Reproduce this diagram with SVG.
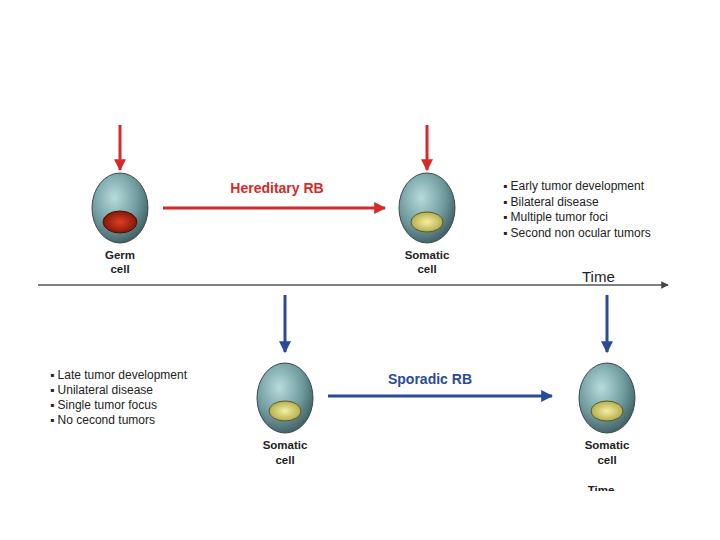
<svg xmlns="http://www.w3.org/2000/svg" width="720" height="540" viewBox="0 0 720 540">
<defs>
<radialGradient id="cg" cx="0.4" cy="0.35" r="0.7"><stop offset="0" stop-color="#b8dcdc"/><stop offset="0.6" stop-color="#6e9a9e"/><stop offset="1" stop-color="#3e5a5e"/></radialGradient>
<radialGradient id="ny" cx="0.5" cy="0.5" r="0.6"><stop offset="0" stop-color="#f4f0a0"/><stop offset="1" stop-color="#a8a040"/></radialGradient>
<radialGradient id="nr" cx="0.5" cy="0.5" r="0.6"><stop offset="0" stop-color="#e04020"/><stop offset="1" stop-color="#701008"/></radialGradient>
<marker id="ar" viewBox="0 0 10 10" refX="9" refY="5" markerWidth="4" markerHeight="4" orient="auto"><path d="M0,0L10,5L0,10z" fill="#d42a2a"/></marker>
<marker id="ab" viewBox="0 0 10 10" refX="9" refY="5" markerWidth="4" markerHeight="4" orient="auto"><path d="M0,0L10,5L0,10z" fill="#2a4a9a"/></marker>
<marker id="ak" viewBox="0 0 10 10" refX="9" refY="5" markerWidth="5" markerHeight="5" orient="auto"><path d="M0,0L10,5L0,10z" fill="#444"/></marker>
<clipPath id="clip"><rect x="0" y="0" width="720" height="491"/></clipPath>
</defs>
<style>
.lbl{font-family:"Liberation Sans",Arial,sans-serif;font-size:11.5px;font-weight:bold;fill:#222;text-anchor:middle}
.bul{font-family:"Liberation Sans",Arial,sans-serif;font-size:12px;fill:#222}
.cell{fill:url(#cg);stroke:#3a4a4a;stroke-width:1}
.nuc{fill:url(#ny);stroke:#5a5a20;stroke-width:1}
.red{stroke:#d42a2a;stroke-width:3;fill:none}
.blue{stroke:#2a4a9a;stroke-width:3;fill:none}
.ttl{font-family:"Liberation Sans",Arial,sans-serif;font-size:14px;font-weight:bold;text-anchor:middle}
</style>
<rect width="720" height="540" fill="#fff"/>
<g id="connectors">
<line class="red" x1="120" y1="125" x2="120" y2="170" marker-end="url(#ar)"/>
<line class="red" x1="427" y1="125" x2="427" y2="170" marker-end="url(#ar)"/>
<line class="red" x1="163" y1="208" x2="385" y2="208" marker-end="url(#ar)"/>
<line class="blue" x1="285" y1="295" x2="285" y2="352" marker-end="url(#ab)"/>
<line class="blue" x1="607" y1="295" x2="607" y2="352" marker-end="url(#ab)"/>
<line class="blue" x1="328" y1="396" x2="552" y2="396" marker-end="url(#ab)"/>
<line x1="38" y1="285" x2="668" y2="285" stroke="#555" stroke-width="1.5" marker-end="url(#ak)"/>
</g>
<text class="ttl" x="277" y="193" fill="#d42a2a">Hereditary RB</text>
<text class="ttl" x="430" y="384" fill="#2a4a9a">Sporadic RB</text>
<text x="582" y="282" font-family="Liberation Sans,Arial,sans-serif" font-size="15" fill="#222">Time</text>
<g id="germ">
<ellipse class="cell" cx="120" cy="208" rx="28" ry="35"/>
<ellipse cx="120" cy="222" rx="17" ry="11" fill="url(#nr)" stroke="#501008"/>
<text class="lbl" x="120" y="259">Germ</text><text class="lbl" x="120" y="273">cell</text>
</g>
<g id="somatic1">
<ellipse class="cell" cx="427" cy="208" rx="28" ry="35"/>
<ellipse class="nuc" cx="427" cy="222" rx="16" ry="10"/>
<text class="lbl" x="427" y="259">Somatic</text><text class="lbl" x="427" y="273">cell</text>
</g>
<g id="somatic2">
<ellipse class="cell" cx="285" cy="398" rx="28" ry="35"/>
<ellipse class="nuc" cx="285" cy="411" rx="16" ry="10"/>
<text class="lbl" x="285" y="449">Somatic</text><text class="lbl" x="285" y="464">cell</text>
</g>
<g id="somatic3">
<ellipse class="cell" cx="607" cy="398" rx="28" ry="35"/>
<ellipse class="nuc" cx="607" cy="411" rx="16" ry="10"/>
<text class="lbl" x="607" y="449">Somatic</text><text class="lbl" x="607" y="464">cell</text>
</g>
<g id="hered-notes">
<text class="bul" x="503" y="190">▪ Early tumor development</text>
<text class="bul" x="503" y="206">▪ Bilateral disease</text>
<text class="bul" x="503" y="221">▪ Multiple tumor foci</text>
<text class="bul" x="503" y="237">▪ Second non ocular tumors</text>
</g>
<g id="spor-notes">
<text class="bul" x="50" y="379">▪ Late tumor development</text>
<text class="bul" x="50" y="394">▪ Unilateral disease</text>
<text class="bul" x="50" y="409">▪ Single tumor focus</text>
<text class="bul" x="50" y="424">▪  No cecond tumors</text>
</g>
<text clip-path="url(#clip)" class="lbl" x="601" y="494" font-size="12">Time</text>
</svg>
